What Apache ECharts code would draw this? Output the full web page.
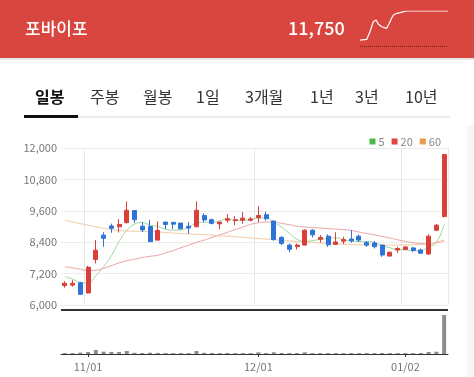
<!DOCTYPE html>
<html>
<head>
<meta charset="utf-8">
<script src="https://cdn.jsdelivr.net/npm/echarts@6/dist/echarts.min.js"></script>
<style>
  html, body { margin: 0; padding: 0; background: #fff; }
  #chart { width: 474px; height: 377px; }
</style>
</head>
<body>
<div id="chart"></div>
<script>
var FONT = '"Noto Sans CJK KR", "Noto Sans", sans-serif';

var dates = ['10/27','10/30','10/31',
  '11/01','11/02','11/03','11/06','11/07','11/08','11/09','11/10','11/13','11/14','11/15','11/16','11/17','11/20','11/21','11/22','11/23','11/24','11/27','11/28','11/29','11/30',
  '12/01','12/04','12/05','12/06','12/07','12/08','12/11','12/12','12/13','12/14','12/15','12/18','12/19','12/20','12/21','12/22','12/26','12/27','12/28',
  '01/02','01/03','01/04','01/05','01/08','01/09'];
var axisDates = ['11/01', '12/01', '01/02'];

var openP  = [6740,6760,6850,6460,7740,8670,9020,8990,9150,9610,9010,9000,8480,9170,9160,9130,9010,8990,9420,9260,9100,9240,9230,9240,9240,9340,9450,9210,8580,8290,8230,8290,8860,8510,8630,8320,8440,8520,8630,8380,8370,8290,7870,8100,8120,8180,8100,7950,8860,9380];
var closeP = [6830,6830,6410,7440,8095,8550,8930,9080,9620,9260,8870,8420,8850,9080,9090,8910,8940,9620,9250,9120,9170,9300,9260,9320,9290,9420,9300,8500,8350,8130,8290,8860,8680,8580,8300,8410,8500,8450,8480,8290,8230,7910,8020,8160,8220,8080,7980,8630,9050,11750];
var lowP   = [6660,6700,6380,6440,7590,8230,8760,8770,9110,9140,8790,8400,8470,8900,8900,8890,8730,8980,9170,9080,8900,9140,9050,9110,9200,9170,9220,8460,8290,8010,8120,8280,8580,8380,8220,8290,8330,8380,8410,8220,8160,7840,7860,7990,8110,8030,7950,7920,8830,9350];
var highP  = [6910,6950,6890,7500,8480,8780,9110,9280,9960,9620,9170,9250,9200,9180,9170,9140,9170,9960,9500,9300,9180,9470,9390,9550,9360,9770,9560,9220,8630,8350,8350,8890,8890,8670,8700,8780,8610,8860,8690,8440,8440,8300,8030,8220,8240,8220,8160,8700,9100,11750];

var ma5  = [7090,6990,6860,6840,7121,7465,7885,8419,8855,9088,9152,9050,9004,8896,8862,8870,8974,9128,9162,9168,9220,9292,9220,9234,9268,9318,9318,9166,8972,8740,8514,8426,8462,8508,8542,8566,8494,8448,8428,8426,8390,8272,8186,8122,8108,8078,8092,8214,8392,9098];
var ma20 = [7460,7420,7370,7310,7330,7400,7500,7610,7690,7750,7810,7860,7900,7990,8080,8190,8290,8390,8480,8580,8680,8780,8880,8980,9080,9140,9170,9170,9120,9070,9010,8980,8960,8940,8920,8900,8880,8850,8790,8730,8680,8620,8560,8490,8430,8380,8350,8330,8390,8480];
var ma60 = [9240,9170,9110,9050,8990,8930,8880,8850,8830,8820,8810,8800,8790,8770,8750,8730,8720,8700,8690,8670,8640,8630,8610,8590,8560,8540,8520,8500,8470,8450,8430,8410,8390,8370,8350,8330,8320,8310,8300,8290,8290,8290,8290,8290,8300,8300,8310,8330,8370,8430];

var volume = [100000,90000,140000,200000,400000,230000,200000,200000,300000,120000,100000,130000,110000,90000,90000,90000,90000,300000,120000,100000,90000,100000,90000,90000,90000,170000,90000,170000,100000,90000,90000,170000,90000,90000,90000,90000,90000,90000,90000,90000,90000,100000,90000,90000,90000,90000,100000,200000,230000,3900000];

// intraday sparkline: minutes from open, price
var sparkMin   = [0,30,44,59,71,81,96,118,130,140,148,163,177,185,195,207,390];
var sparkPrice = [9510,9567,10153,10925,11056,10747,10539,10415,10801,11187,11441,11573,11619,11519,11696,11750,11750];
var prevClose = 9050;
var lastPrice = '11,750';
var stockName = '포바이포';
var tabs = ['일봉','주봉','월봉','1일','3개월','1년','3년','10년'];
var tabX = [35, 90, 143, 196, 245, 310, 355, 405];

var chart = echarts.init(document.getElementById('chart'));

var candleData = openP.map(function (o, i) {
  return [o, closeP[i], lowP[i], highP[i]];
});
var sparkData = sparkMin.map(function (m, i) { return [m, sparkPrice[i]]; });

var showDate = function (index, value) { return axisDates.indexOf(value) >= 0; };

var graphics = [
  { type: 'rect', shape: { x: 0, y: 0, width: 474, height: 58 }, style: { fill: '#d8463f' } },
  { type: 'rect', shape: { x: 0, y: 58, width: 474, height: 2 }, style: { fill: '#e6e6e6' } },
  { type: 'text', left: 25, top: 20, style: { text: stockName, fill: '#fff', font: '500 17px ' + FONT } },
  { type: 'text', left: 288, top: 19, style: { text: lastPrice, fill: '#fff', font: '500 18px ' + FONT } },
  { type: 'rect', shape: { x: 24, y: 115, width: 54, height: 3 }, style: { fill: '#111' } },
  { type: 'rect', shape: { x: 78, y: 116, width: 372, height: 2 }, style: { fill: '#ececec' } },
  { type: 'rect', shape: { x: 467, y: 125, width: 7, height: 252 }, style: { fill: '#f7f7f7' } },
  { type: 'rect', shape: { x: 61, y: 309, width: 387, height: 2 }, style: { fill: '#333' } }
];
tabs.forEach(function (t, i) {
  graphics.push({
    type: 'text', left: tabX[i], top: 89,
    style: { text: t, fill: i === 0 ? '#111' : '#333', font: (i === 0 ? 'bold ' : '') + '16px ' + FONT }
  });
});

var option = {
  animation: false,
  backgroundColor: '#fff',
  textStyle: { fontFamily: FONT },
  graphic: graphics,
  legend: {
    right: 28, top: 131,
    itemWidth: 6, itemHeight: 6, itemGap: 7,
    icon: 'rect',
    textStyle: { color: '#888', fontSize: 11, padding: [0, 0, 0, -2] },
    data: [
      { name: '5', itemStyle: { color: '#4cb84c' } },
      { name: '20', itemStyle: { color: '#df463f' } },
      { name: '60', itemStyle: { color: '#e9994d' } }
    ]
  },
  grid: [
    { left: 61, width: 387, top: 148, height: 157 },
    { left: 61, width: 387, top: 310, height: 44 },
    { left: 360, width: 88, top: 11, height: 35 }
  ],
  xAxis: [
    {
      type: 'category', gridIndex: 0, data: dates, boundaryGap: true,
      axisLine: { show: false }, axisTick: { show: false }, axisLabel: { show: false },
      splitLine: { show: true, interval: showDate, lineStyle: { color: '#e8e8e8' } }
    },
    {
      type: 'category', gridIndex: 1, data: dates, boundaryGap: true,
      axisLine: { show: true, lineStyle: { color: '#333', width: 1 } },
      axisTick: { show: true, interval: showDate, alignWithLabel: true, length: 3, lineStyle: { color: '#333' } },
      axisLabel: { show: true, interval: showDate, color: '#777', fontSize: 11, margin: 7 },
      splitLine: { show: false }
    },
    {
      type: 'value', gridIndex: 2, min: 0, max: 390, show: false
    }
  ],
  yAxis: [
    {
      type: 'value', gridIndex: 0, min: 6000, max: 12000, interval: 1200,
      axisLine: { show: false }, axisTick: { show: false },
      axisLabel: {
        color: '#777', fontSize: 11, margin: 4,
        formatter: function (v) { return v.toLocaleString('en-US'); }
      },
      splitLine: { lineStyle: { color: '#ececec' } }
    },
    {
      type: 'value', gridIndex: 1, min: 0, max: 4400000, show: false
    },
    {
      type: 'value', gridIndex: 2, min: prevClose, max: 11750, show: false
    }
  ],
  series: [
    {
      type: 'candlestick', xAxisIndex: 0, yAxisIndex: 0, data: candleData,
      barWidth: 4.5,
      itemStyle: {
        color: '#d9403a', color0: '#2f73d9',
        borderColor: '#d9403a', borderColor0: '#2f73d9', borderWidth: 1
      }
    },
    {
      name: '5', type: 'line', xAxisIndex: 0, yAxisIndex: 0, data: ma5,
      smooth: true, showSymbol: false, z: 1,
      itemStyle: { color: '#4cb84c' },
      lineStyle: { color: '#9fd59b', width: 1 }
    },
    {
      name: '20', type: 'line', xAxisIndex: 0, yAxisIndex: 0, data: ma20,
      smooth: true, showSymbol: false, z: 1,
      itemStyle: { color: '#df463f' },
      lineStyle: { color: '#eaa3a3', width: 1 }
    },
    {
      name: '60', type: 'line', xAxisIndex: 0, yAxisIndex: 0, data: ma60,
      smooth: true, showSymbol: false, z: 1,
      itemStyle: { color: '#e9994d' },
      lineStyle: { color: '#f3c9a0', width: 1 }
    },
    {
      type: 'bar', xAxisIndex: 1, yAxisIndex: 1, data: volume,
      barWidth: 4, itemStyle: { color: '#8c8c8c' }
    },
    {
      type: 'line', xAxisIndex: 2, yAxisIndex: 2, data: sparkData,
      showSymbol: false, lineStyle: { color: '#fff', width: 1.2 },
      markLine: {
        silent: true, symbol: 'none', label: { show: false },
        lineStyle: { color: '#6b2420', type: 'dotted', width: 1 },
        data: [{ yAxis: prevClose }]
      }
    }
  ]
};

chart.setOption(option);
</script>
</body>
</html>
